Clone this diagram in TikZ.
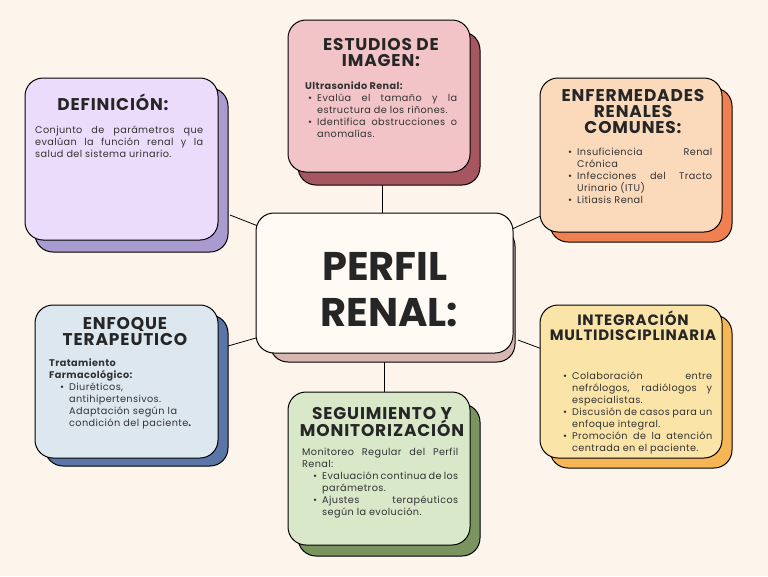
\documentclass[tikz,border=0pt]{standalone}
\usepackage{fontspec}
\setmainfont{Poppins}
\newfontfamily\ttlfont[LetterSpace=5]{Poppins}
\newfontfamily\bdyfont[LetterSpace=4]{Poppins}
\usepackage{enumitem}
\setlist[itemize]{leftmargin=12pt,itemsep=0pt,parsep=0pt,topsep=0pt,partopsep=0pt,label=\textbullet}
\definecolor{bg}{HTML}{FDF5EC}
\definecolor{s1}{HTML}{A99BCF}\definecolor{f1}{HTML}{ECDCFB}
\definecolor{s2}{HTML}{A5565E}\definecolor{f2}{HTML}{F2C4C8}
\definecolor{s3}{HTML}{F08050}\definecolor{f3}{HTML}{FBD9BB}
\definecolor{s0}{HTML}{D8B7B2}\definecolor{f0}{HTML}{FFFBF4}
\definecolor{s4}{HTML}{5A75A8}\definecolor{f4}{HTML}{DDE7F0}
\definecolor{s5}{HTML}{7A9460}\definecolor{f5}{HTML}{D8E8C8}
\definecolor{s6}{HTML}{F6B656}\definecolor{f6}{HTML}{FBE4A8}
\begin{document}
\begin{tikzpicture}[x=1pt,y=-1pt,
  box/.style={draw=black,line width=1pt,rounded corners=18pt},
  ttl/.style={font=\ttlfont\bfseries\fontsize{17}{16}\selectfont,align=center,text=black!85,inner sep=0pt},
  bdy/.style={font=\bdyfont\fontsize{9.7}{12}\selectfont,text width=#1,align=justify,inner sep=0pt,anchor=north west,text=black!80,
    execute at begin node={\hyphenpenalty=10000\exhyphenpenalty=10000\relax}},
  ln/.style={draw=black,line width=0.8pt}]
\useasboundingbox (0,0) rectangle (768,576);
\fill[bg] (0,0) rectangle (768,576);
% connectors
\coordinate (c1) at (230,215); \coordinate (c1b) at (258,226);
\coordinate (c2) at (382,185); \coordinate (c2b) at (382,213);
\coordinate (c3) at (510,230); \coordinate (c3b) at (545,214);
\coordinate (c4) at (228,346); \coordinate (c4b) at (256,338);
\coordinate (c5) at (384,362); \coordinate (c5b) at (384,392);
\coordinate (c6) at (518,340); \coordinate (c6b) at (542,349);
\draw[ln] (c1)--(c1b); \draw[ln] (c2)--(c2b); \draw[ln] (c3)--(c3b);
\draw[ln] (c4)--(c4b); \draw[ln] (c5)--(c5b); \draw[ln] (c6)--(c6b);
% shadows + boxes
\path[box,fill=s1] (35,88) rectangle (228,252);
\path[box,fill=f1] (25,78) rectangle (218,240);
\path[box,fill=s2] (298,32) rectangle (480,185);
\path[box,fill=f2] (288,20) rectangle (470,172);
\path[box,fill=s3] (550,88) rectangle (732,242);
\path[box,fill=f3] (540,78) rectangle (722,232);
\path[box,fill=s0] (270,228) rectangle (515,362);
\path[box,fill=f0] (256,213) rectangle (513,353);
\path[box,fill=s4] (45,315) rectangle (228,466);
\path[box,fill=f4] (35,305) rectangle (218,458);
\path[box,fill=s5] (298,404) rectangle (480,556);
\path[box,fill=f5] (288,392) rectangle (470,545);
\path[box,fill=s6] (550,315) rectangle (732,468);
\path[box,fill=f6] (540,305) rectangle (722,458);
% central
\node[font=\bfseries\fontsize{40}{46}\selectfont,align=center,text=black!85] (cen) at (385,290) {PERFIL\\\ RENAL:};
% definicion
\node[ttl] (t1) at (113,102) {DEFINICIÓN:};
\node[bdy=168pt] (b1) at (35,126) {Conjunto de parámetros que evalúan la función renal y la salud del sistema urinario.};
% estudios
\node[ttl] (t2) at (381,53) {ESTUDIOS DE\\IMAGEN:};
\node[bdy=152pt] (b2) at (305,82) {\textbf{Ultrasonido Renal:}
\begin{itemize}
\item Evalúa el tamaño y la estructura de los riñones.
\item Identifica obstrucciones o anomalías.
\end{itemize}};
% enfermedades
\node[ttl] (t3) at (633,112) {ENFERMEDADES\\RENALES\\COMUNES:};
\node[bdy=147pt] (b3) at (565,143) {\begin{itemize}
\item Insuficiencia Renal Crónica
\item Infecciones del Tracto Urinario (ITU)
\item Litiasis Renal
\end{itemize}};
% enfoque
\node[ttl] (t4) at (125,332) {ENFOQUE\\TERAPEUTICO};
\node[bdy=160pt,align=left] (b4) at (49,359) {\textbf{Tratamiento\\Farmacológico:}
\begin{itemize}[leftmargin=20pt]
\item Diuréticos,\\ antihipertensivos.\\ Adaptación según la condición del paciente\textbf{.}
\end{itemize}};
% seguimiento
\node[ttl] (t5) at (382,422) {SEGUIMIENTO Y\\MONITORIZACIÓN};
\node[bdy=156pt] (b5) at (302,448) {Monitoreo Regular del Perfil Renal:
\begin{itemize}[leftmargin=20pt]
\item Evaluación continua de los parámetros.
\item Ajustes terapéuticos según la evolución.
\end{itemize}};
% integracion
\node[ttl,font=\ttlfont\bfseries\fontsize{15}{15}\selectfont] (t6) at (633,326) {INTEGRACIÓN\\MULTIDISCIPLINARIA};
\node[bdy=152pt] (b6) at (560,367) {\begin{itemize}
\item Colaboración entre nefrólogos, radiólogos y especialistas.
\item Discusión de casos para un enfoque integral.
\item Promoción de la atención centrada en el paciente.
\end{itemize}};
\end{tikzpicture}
\end{document}
